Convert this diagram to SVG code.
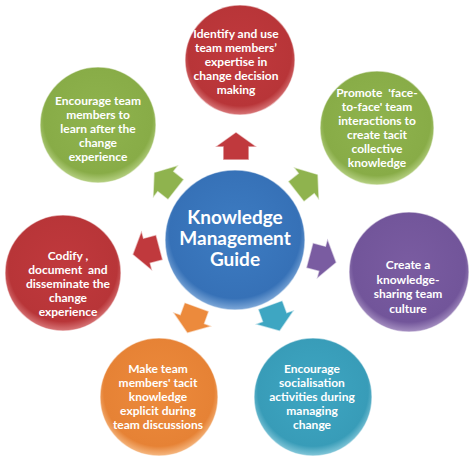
<svg xmlns="http://www.w3.org/2000/svg" width="474" height="463" viewBox="0 0 474 463">
<defs>
<radialGradient id="gRed" cx="50%" cy="45%" r="55%"><stop offset="0" stop-color="#c0393d"/><stop offset="0.85" stop-color="#b83538"/><stop offset="1" stop-color="#d9787a"/></radialGradient>
<radialGradient id="gGreen" cx="50%" cy="45%" r="55%"><stop offset="0" stop-color="#8fb34e"/><stop offset="0.85" stop-color="#88ac47"/><stop offset="1" stop-color="#b7d184"/></radialGradient>
<radialGradient id="gBlue" cx="50%" cy="45%" r="55%"><stop offset="0" stop-color="#3d7cc2"/><stop offset="0.85" stop-color="#3671b7"/><stop offset="1" stop-color="#7fa9d9"/></radialGradient>
<radialGradient id="gPurple" cx="50%" cy="45%" r="55%"><stop offset="0" stop-color="#7a5ca1"/><stop offset="0.85" stop-color="#72559a"/><stop offset="1" stop-color="#a690c2"/></radialGradient>
<radialGradient id="gOrange" cx="50%" cy="45%" r="55%"><stop offset="0" stop-color="#ec8a3c"/><stop offset="0.85" stop-color="#e68235"/><stop offset="1" stop-color="#f6b983"/></radialGradient>
<radialGradient id="gTeal" cx="50%" cy="45%" r="55%"><stop offset="0" stop-color="#3ea6c2"/><stop offset="0.85" stop-color="#389cb8"/><stop offset="1" stop-color="#85c8da"/></radialGradient>
<path id="arr" d="M0,-14 L21,1 L13,1 L13,14 L-13,14 L-13,1 L-21,1 Z"/>
</defs>
<style>
.c{stroke:#ffffff;stroke-opacity:0.5;stroke-width:1.5}
.t{font-family:Lato,"Open Sans","Liberation Sans",sans-serif;font-weight:bold;font-size:12px;fill:#ffffff;text-anchor:middle}
.tc{font-family:Lato,"Open Sans","Liberation Sans",sans-serif;font-weight:bold;font-size:19px;fill:#ffffff;text-anchor:middle}
.a{stroke:#ffffff;stroke-opacity:0.6;stroke-width:1.5}
</style>
<rect width="474" height="463" fill="#ffffff"/>
<g id="connectors">
<use href="#arr" transform="translate(236,146)" fill="#c0393d" class="a"/>
<use href="#arr" transform="translate(307,183) rotate(52)" fill="#8fb34e" class="a"/>
<use href="#arr" transform="translate(165,181) rotate(-52)" fill="#8fb34e" class="a"/>
<use href="#arr" transform="translate(146,251) rotate(-105)" fill="#c0393d" class="a"/>
<use href="#arr" transform="translate(323,259) rotate(105)" fill="#7a5ca1" class="a"/>
<use href="#arr" transform="translate(192,320) rotate(200)" fill="#ec8a3c" class="a"/>
<use href="#arr" transform="translate(275,318) rotate(160)" fill="#3ea6c2" class="a"/>
</g>
<g id="center">
<circle cx="235" cy="240" r="70" fill="url(#gBlue)" class="c"/>
<text class="tc" x="235" y="224">Knowledge</text>
<text class="tc" x="235" y="245">Management</text>
<text class="tc" x="235" y="266">Guide</text>
</g>
<g id="n-top">
<circle cx="240" cy="60" r="55" fill="url(#gRed)" class="c"/>
<text class="t" x="236" y="38">Identify and use</text>
<text class="t" x="236" y="52">team members’</text>
<text class="t" x="236" y="66">expertise in</text>
<text class="t" x="236" y="80">change decision</text>
<text class="t" x="236" y="94">making</text>
</g>
<g id="n-topright">
<circle cx="377" cy="128" r="57" fill="url(#gGreen)" class="c"/>
<text class="t" x="377" y="97" xml:space="preserve">Promote  'face-</text>
<text class="t" x="377" y="111">to-face' team</text>
<text class="t" x="377" y="125">interactions to</text>
<text class="t" x="377" y="139">create tacit</text>
<text class="t" x="377" y="153">collective</text>
<text class="t" x="377" y="167">knowledge</text>
</g>
<g id="n-topleft">
<circle cx="98" cy="125" r="58" fill="url(#gGreen)" class="c"/>
<text class="t" x="98" y="105">Encourage team</text>
<text class="t" x="98" y="119">members to</text>
<text class="t" x="98" y="133">learn after the</text>
<text class="t" x="98" y="147">change</text>
<text class="t" x="98" y="161">experience</text>
</g>
<g id="n-left">
<circle cx="63" cy="273" r="58" fill="url(#gRed)" class="c"/>
<text class="t" x="68" y="259.5">Codify ,</text>
<text class="t" x="68" y="273.5" xml:space="preserve">document  and</text>
<text class="t" x="68" y="287.5">disseminate the</text>
<text class="t" x="68" y="301.5">change</text>
<text class="t" x="68" y="315.5">experience</text>
</g>
<g id="n-right">
<circle cx="409" cy="272" r="60" fill="url(#gPurple)" class="c"/>
<text class="t" x="408" y="269">Create a</text>
<text class="t" x="408" y="283.5">knowledge-</text>
<text class="t" x="408" y="298">sharing team</text>
<text class="t" x="408" y="312.5">culture</text>
</g>
<g id="n-bottomleft">
<circle cx="159" cy="397" r="59" fill="url(#gOrange)" class="c"/>
<text class="t" x="158" y="372.5">Make team</text>
<text class="t" x="158" y="386.5">members' tacit</text>
<text class="t" x="158" y="400.5">knowledge</text>
<text class="t" x="158" y="414.5">explicit during</text>
<text class="t" x="158" y="428.5">team discussions</text>
</g>
<g id="n-bottomright">
<circle cx="313" cy="397" r="59" fill="url(#gTeal)" class="c"/>
<text class="t" x="312" y="372.5">Encourage</text>
<text class="t" x="312" y="386.5">socialisation</text>
<text class="t" x="312" y="400.5">activities during</text>
<text class="t" x="312" y="414.5">managing</text>
<text class="t" x="312" y="428.5">change</text>
</g>
</svg>
